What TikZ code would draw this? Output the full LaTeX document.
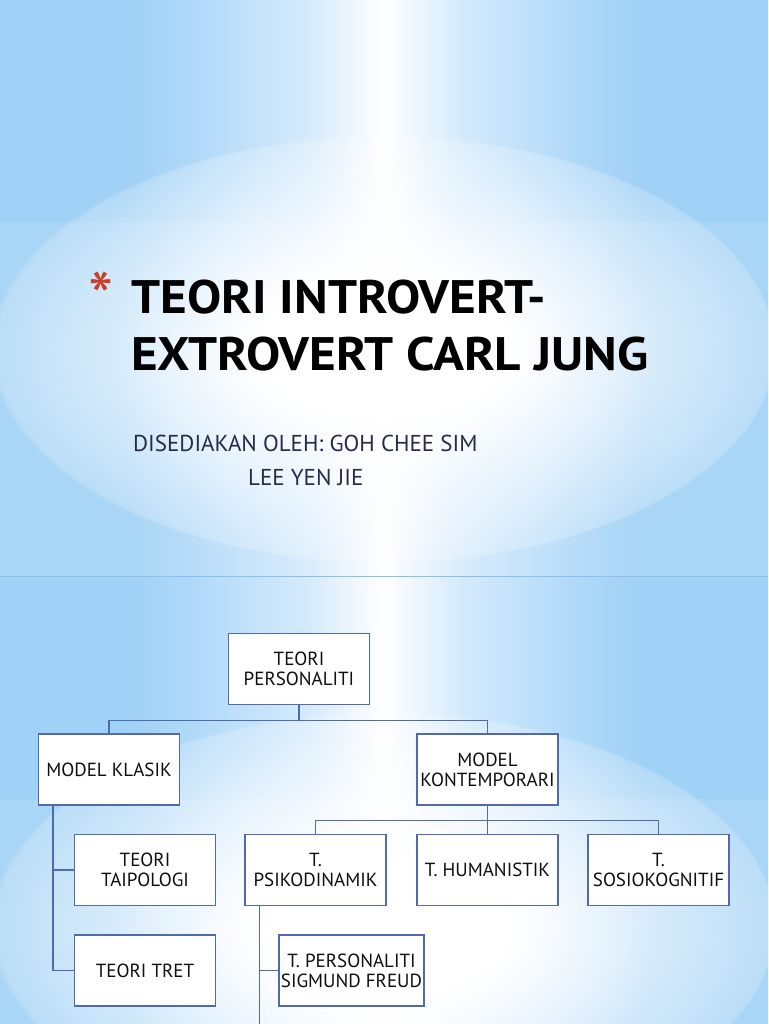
\documentclass[tikz,border=0pt]{standalone}
\usepackage{fontspec}
\setmainfont{PT Sans}
\newfontfamily\titlefont[FakeStretch=1.09]{PT Sans}
\usetikzlibrary{fadings}
\definecolor{sky}{RGB}{160,209,246}
\definecolor{skyA}{RGB}{178,218,249}
\definecolor{skyB}{RGB}{214,235,252}
\definecolor{boxline}{RGB}{80,106,170}
\definecolor{subtext}{RGB}{38,44,72}
\definecolor{starred}{RGB}{205,62,40}
\definecolor{sepline}{RGB}{140,192,236}
\definecolor{boxtext}{RGB}{15,15,15}
\definecolor{fadeblk}{gray}{0}
\pgfdeclareradialshading{glowshade}{\pgfpoint{0bp}{0bp}}{color(0bp)=(fadeblk!0); color(8bp)=(fadeblk!0); color(17bp)=(fadeblk!45); color(24.6bp)=(fadeblk!78); color(25bp)=(fadeblk!100); color(50bp)=(fadeblk!100)}
\pgfdeclarefading{glowfade}{\pgfuseshading{glowshade}}
\tikzset{
  box/.style={draw=boxline, fill=white, line width=1.2pt, minimum width=141pt,
    minimum height=71pt, align=center, text=boxtext, inner sep=2pt,
    font=\fontsize{19}{20}\selectfont},
  link/.style={draw=boxline, line width=1.2pt},
}
\newcommand\slideback{%
  \shade[left color=sky, right color=sky] (0,0) rectangle (131,577);
  \shade[left color=sky, right color=skyA] (130,0) rectangle (200,577);
  \shade[left color=skyA, right color=skyB] (199,0) rectangle (311,577);
  \shade[left color=skyB, right color=white] (310,0) rectangle (384.5,577);
  \shade[left color=white, right color=skyB] (384,0) rectangle (458,577);
  \shade[left color=skyB, right color=skyA] (457,0) rectangle (569,577);
  \shade[left color=skyA, right color=sky] (568,0) rectangle (638,577);
  \shade[left color=sky, right color=sky] (637,0) rectangle (768,577);
  \fill[white, opacity=0.10] (0,222) rectangle (768,577);
  \fill[white, path fading=glowfade, fit fading=true] (384,349) ellipse [x radius=393, y radius=214];
  \draw[sepline, line width=1pt] (0,576.5) -- (768,576.5);
}
\begin{document}
\begin{tikzpicture}[x=1pt, y=-1pt]
\useasboundingbox (0,0) rectangle (768,1024);
\clip (0,0) rectangle (768,1024);
\begin{scope}
  \slideback
\end{scope}
\begin{scope}[shift={(0,577)}]
  \slideback
\end{scope}

% title slide
\node[anchor=base west, inner sep=0, text=starred, font=\fontsize{72}{72}\selectfont] (star) at (88,323) {*};
\node[anchor=base west, inner sep=0, font=\fontsize{47}{58}\titlefont\bfseries] (title1) at (131,313) {TEORI INTROVERT-};
\node[anchor=base west, inner sep=0, font=\fontsize{47}{58}\titlefont\bfseries] (title2) at (131,370) {EXTROVERT CARL JUNG};
\node[anchor=base west, inner sep=0, text=subtext, font=\fontsize{23}{28}\selectfont] (sub1) at (133,451) {DISEDIAKAN OLEH: GOH CHEE SIM};
\node[anchor=base west, inner sep=0, text=subtext, font=\fontsize{23}{28}\selectfont] (sub2) at (248,485) {LEE YEN JIE};

% chart
\node[box] (tp) at (299,669) {TEORI\\PERSONALITI};
\node[box] (mk) at (109,769.5) {MODEL KLASIK};
\node[box] (mko) at (487.5,769.5) {MODEL\\KONTEMPORARI};
\node[box] (tai) at (145,870) {TEORI\\TAIPOLOGI};
\node[box] (tret) at (145,970.5) {TEORI TRET};
\node[box] (psi) at (315.5,870) {T.\\PSIKODINAMIK};
\node[box] (hum) at (487.5,870) {T. HUMANISTIK};
\node[box] (sos) at (658.5,870) {T.\\SOSIOKOGNITIF};
\node[box] (sf) at (351.5,970.5) {T. PERSONALITI\\SIGMUND FREUD};
\coordinate (offb) at (259.5,1030);

\draw[link] (tp.south) -- ++(0,15) -| (mk.north);
\draw[link] (tp.south) -- ++(0,15) -| (mko.north);
\draw[link] (mko.south) -- ++(0,15) -| (psi.north);
\draw[link] (mko.south) -- (hum.north);
\draw[link] (mko.south) -- ++(0,15) -| (sos.north);
\draw[link] ([xshift=-56pt]mk.south) |- (tai.west);
\draw[link] ([xshift=-56pt]mk.south) |- (tret.west);
\draw[link] ([xshift=-56pt]psi.south) |- (sf.west);
\draw[link] ([xshift=-56pt]psi.south) -- (offb);
\end{tikzpicture}
\end{document}
